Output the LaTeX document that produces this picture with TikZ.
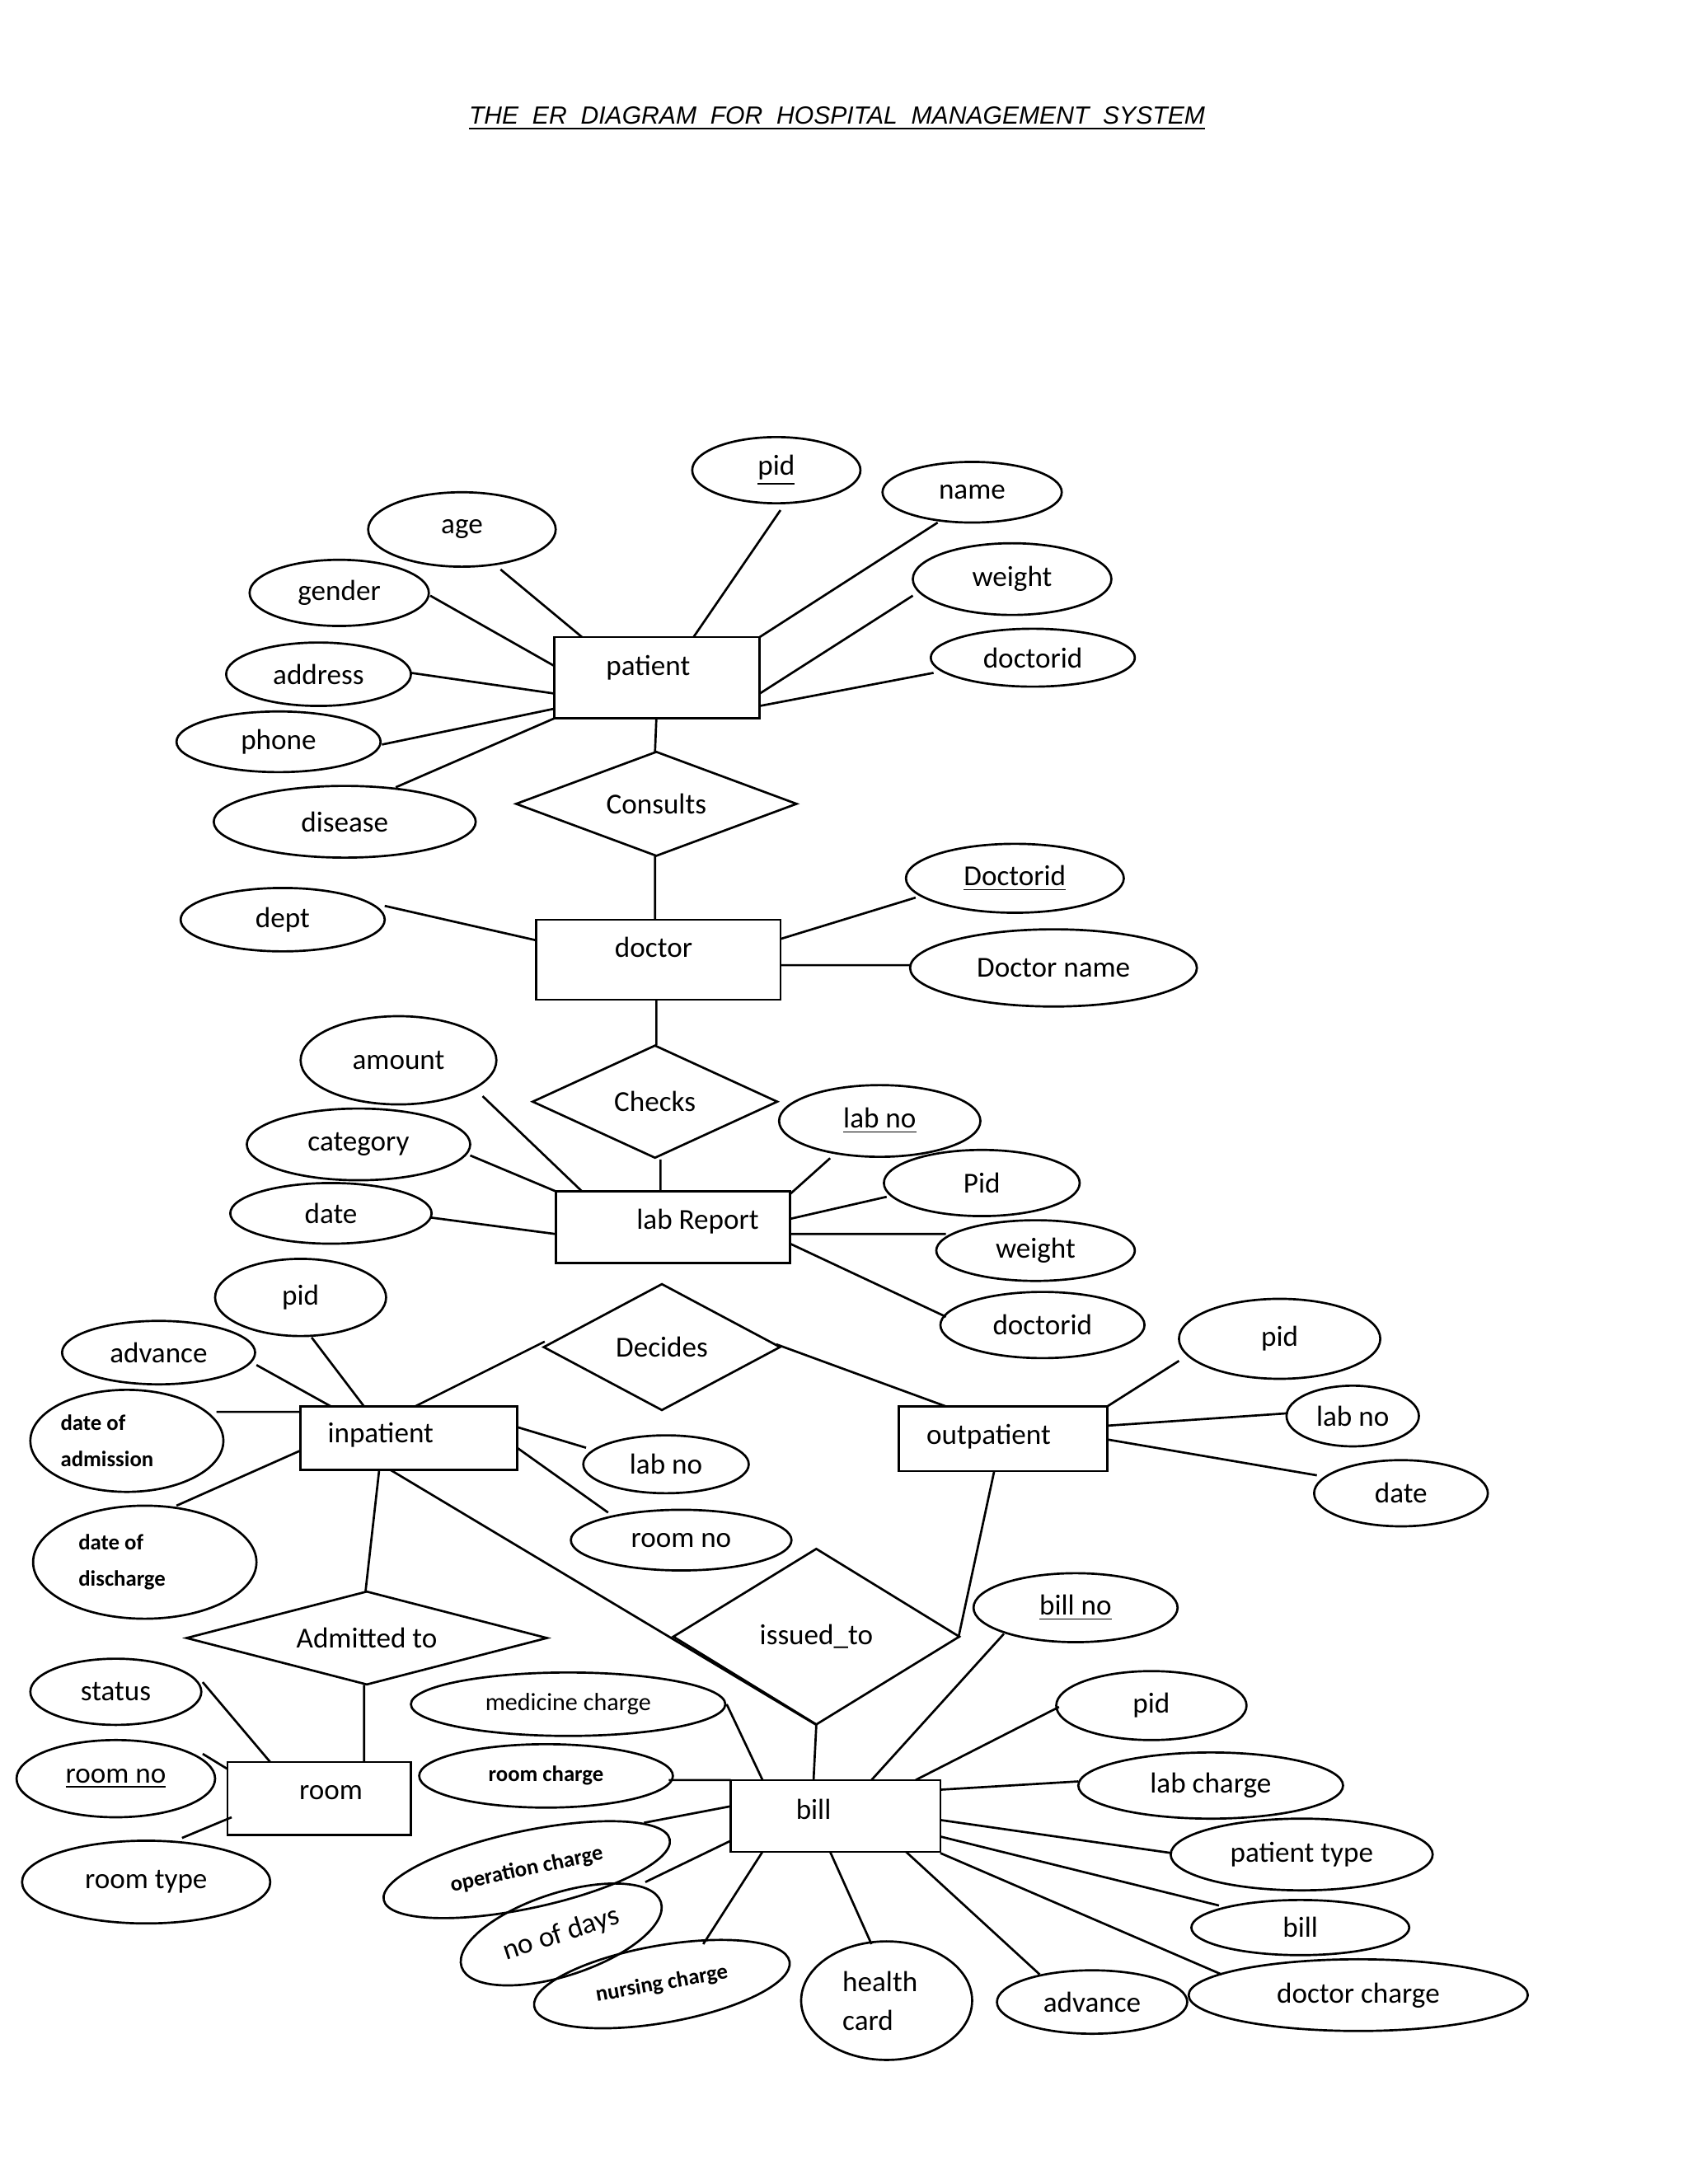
\documentclass[tikz,border=0pt]{standalone}
\usepackage{fontspec}
\setmainfont{Carlito}
\newfontfamily\titlefont{Liberation Sans}
\usetikzlibrary{shapes.geometric}
\tikzset{
 ent/.style={draw,thick,inner sep=0pt},
 att/.style={draw,ellipse,thick,inner sep=0pt},
 rel/.style={draw,diamond,thick,inner sep=0pt,aspect=2},
 ln/.style={thick}
}
\newcommand{\E}[6]{\node[att,minimum width=#4*0.5pt,minimum height=#5*0.5pt] (#1) at (#2,#3) {#6};}
\newcommand{\R}[5]{\node[ent,minimum width=#4*0.5pt,minimum height=#5*0.5pt] (#1) at (#2,#3) {};}
\begin{document}
\begin{tikzpicture}[x=0.5pt,y=-0.5pt,font=\fontsize{10.5}{12}\selectfont]
\useasboundingbox[fill=white] (0,0) rectangle (1224,1584);
\node (title) at (607,86) {\titlefont\itshape\fontsize{9}{10}\selectfont \underline{THE\ \ ER\ \ DIAGRAM\ \ FOR\ \ HOSPITAL\ \ MANAGEMENT\ \ SYSTEM}};
% patient
\R{patient}{476.5}{491.5}{149}{59}
\node at (470,484) {patient};
\E{pid1}{563}{341}{122}{48}{\underline{pid}}
\E{name}{705}{357}{130}{44}{name}
\E{age}{335}{384}{136}{54}{age}
\E{weight1}{734}{420}{144}{52}{weight}
\E{gender}{246}{430}{130}{48}{gender}
\E{docid1}{749}{477}{148}{42}{doctorid}
\E{address}{231}{489}{134}{46}{address}
\E{phone}{202}{538}{148}{44}{phone}
\E{disease}{250}{596}{190}{52}{disease}
\node[rel,minimum width=102pt,minimum height=38pt] (consults) at (476,583) {Consults};
\draw[ln] (422,462)--(363,413) (402,483)--(312,432) (402,503)--(298,488) (402,514)--(277,540) (402,521)--(287,571)
 (503,462)--(566,370) (551,462)--(680,379) (551,503)--(662,432) (551,512)--(677,488) (476,521)--(475,546) (475,621)--(475,667);
% doctor
\R{doctor}{477.5}{696}{177}{58}
\node at (474,687) {doctor};
\E{dept}{205}{667}{148}{46}{dept}
\E{docid2}{736}{637}{158}{50}{\underline{Doctorid}}
\E{docname}{764}{702}{208}{56}{Doctor name}
\draw[ln] (279,657)--(389,682) (566,681)--(664,651) (566,700)--(660,700) (476,725)--(476,758);
\node[rel,minimum width=89pt,minimum height=41pt] (checks) at (475,799) {Checks};
% lab report
\R{lab}{488}{890}{170}{52}
\node at (506,886) {lab Report};
\E{amount}{289}{769}{142}{64}{amount}
\E{category}{260}{830}{162}{52}{category}
\E{date1}{240}{880}{146}{44}{date}
\E{labno1}{638}{813}{146}{52}{\underline{lab no}}
\E{pid2}{712}{858}{142}{48}{Pid}
\E{weight2}{751}{907}{144}{44}{weight}
\E{docid3}{756}{961}{148}{48}{doctorid}
\draw[ln] (479,841)--(479,864) (350,795)--(422,864) (341,838)--(403,864) (312,883)--(403,895)
 (573,866)--(602,840) (573,884)--(643,868) (573,895)--(686,895) (573,902)--(686,955);
\node[rel,minimum width=86pt,minimum height=46pt] (decides) at (480,977) {Decides};
% inpatient
\R{inpat}{296.5}{1043}{157}{46}
\node at (276,1041) {inpatient};
\E{pid3}{218}{941}{124}{56}{pid}
\E{adv1}{115}{981}{140}{46}{advance}
\E{doa}{92}{1045}{140}{74}{\parbox{48pt}{\fontsize{8}{13}\selectfont\bfseries date of\\admission}}
\E{dod}{105}{1133}{162}{82}{\parbox{48pt}{\fontsize{8}{13}\selectfont\bfseries date of\\discharge}}
\E{labno2}{483}{1062}{120}{42}{lab no}
\E{roomno1}{494}{1117}{160}{44}{room no}
\draw[ln] (395,973)--(301,1020) (563,975)--(686,1020) (226,970)--(264,1020) (186,990)--(240,1020)
 (157,1024)--(218,1024) (128,1092)--(218,1052) (375,1035)--(425,1050) (375,1050)--(441,1097) (275,1066)--(265,1155);
\node[rel,minimum width=131pt,minimum height=34pt,aspect=3.8] (admitted) at (266,1188) {Admitted to};
% room
\R{room}{231.5}{1304.5}{133}{53}
\node at (240,1300) {room};
\E{status}{84}{1227}{124}{48}{status}
\E{roomno2}{84}{1290}{144}{56}{\underline{room no}}
\E{roomtype}{106}{1365}{180}{60}{room type}
\draw[ln] (264,1222)--(264,1278) (147,1220)--(196,1278) (147,1272)--(165,1283) (132,1333)--(168,1318);
% outpatient
\R{outpat}{727.5}{1043.5}{151}{47}
\node at (717,1042) {outpatient};
\E{pid4}{928}{971}{146}{58}{pid}
\E{labno3}{981}{1027}{96}{44}{lab no}
\E{date2}{1016}{1083}{126}{48}{date}
\draw[ln] (803,1020)--(855,987) (803,1034)--(934,1025) (803,1044)--(955,1070);
\node[rel,minimum width=104pt,minimum height=64pt,aspect=1.6] (issued) at (592,1187) {issued\_to};
\draw[ln] (283,1066)--(592,1251) (592,1251)--(590,1291) (721,1067)--(695,1188);
% bill
\R{bill}{606}{1317}{152}{52}
\node at (590,1312) {bill};
\E{billno}{780}{1166}{148}{50}{\underline{bill no}}
\E{pid5}{835}{1237}{138}{50}{pid}
\E{labch}{878}{1295}{192}{48}{lab charge}
\E{ptype}{944}{1345}{190}{52}{patient type}
\E{bill2}{943}{1398}{158}{40}{bill}
\E{docch}{985}{1447}{246}{52}{doctor charge}
\E{adv2}{792}{1452}{138}{46}{advance}
\E{health}{643}{1451}{124}{86}{\parbox{32pt}{health\\[2pt]card}}
\node[att,minimum width=94pt,minimum height=28pt,rotate=10] (nursing) at (480,1439) {\fontsize{8}{9}\selectfont\bfseries nursing charge};
\node[att,minimum width=76pt,minimum height=30pt,rotate=18] (days) at (407,1403) {no of days};
\node[att,minimum width=106pt,minimum height=28pt,rotate=12] (oper) at (382,1356) {\fontsize{8}{9}\selectfont\bfseries operation charge};
\E{roomch}{396}{1288}{184}{46}{\fontsize{8}{9}\selectfont\bfseries room charge}
\E{medch}{412}{1236}{228}{46}{\fontsize{9}{10}\selectfont medicine charge}
\draw[ln] (632,1291)--(728,1185) (664,1291)--(768,1238) (682,1298)--(782,1292) (682,1320)--(850,1344)
 (682,1332)--(884,1382) (682,1344)--(886,1432) (657,1343)--(754,1432) (602,1343)--(632,1410)
 (553,1343)--(510,1410) (530,1335)--(468,1365) (530,1310)--(467,1322) (485,1291)--(530,1291) (527,1236)--(553,1291);
\end{tikzpicture}
\end{document}
